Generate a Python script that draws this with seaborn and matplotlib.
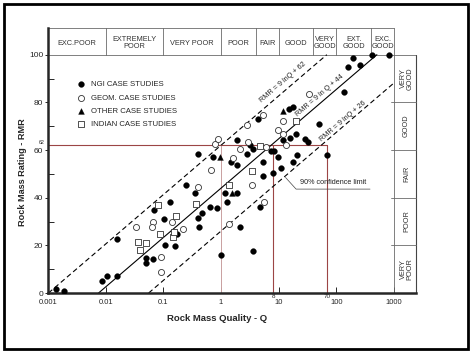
import numpy as np
import pandas as pd
import seaborn as sns
import matplotlib.pyplot as plt
from matplotlib.patches import Rectangle
from matplotlib.ticker import NullLocator

# 数据: Q 值与 RMR 值
ngi_q = [0.00136, 0.0019, 0.0087, 0.0104, 0.0159, 0.0159, 0.051, 0.050, 0.067, 0.069,
         0.103, 0.107, 0.13, 0.159, 0.175, 0.244, 0.354, 0.40, 0.42, 0.46,
         0.64, 0.84, 0.99, 1.17, 1.87, 1.29, 2.13, 0.395, 0.72, 1.47,
         1.87, 1.87, 2.79, 3.18, 3.54, 4.43, 5.28, 5.28, 7.27, 8.3,
         9.85, 10.8, 8.0, 11.7, 15.7, 20, 20.5, 17.5, 28.6, 32.6,
         50.6, 70, 15.3, 17.5, 136, 161, 197, 257, 420, 818,
         4.74, 3.63]
ngi_rmr = [1.7, 1.0, 5.0, 7.3, 7.3, 22.5, 14.6, 12.7, 14.3, 34.8,
           30.9, 20.1, 38.1, 19.8, 24.8, 45.3, 42.1, 31.6, 27.8, 33.4,
           36.2, 35.8, 15.9, 42.1, 41.8, 38.1, 27.6, 58.3, 57.1, 55.1,
           53.7, 64.2, 58.3, 62.1, 60.3, 72.9, 55.0, 49.3, 59.7, 59.7,
           56.9, 52.5, 50.4, 64.2, 65.2, 66.6, 57.7, 54.8, 64.5, 63.2,
           70.9, 57.9, 77.1, 78.2, 84.5, 95.0, 98.5, 95.7, 100, 100,
           36.0, 17.8]

geom_q = [0.033, 0.065, 0.064, 0.090, 0.090, 0.14, 0.222, 0.404, 0.67, 0.79,
          0.90, 1.38, 1.63, 2.09, 2.79, 2.97, 3.38, 5.41, 5.56, 6.03,
          9.85, 11.7, 12.0, 13.4, 34]
geom_rmr = [27.8, 29.9, 27.8, 15.0, 8.7, 29.7, 26.9, 44.6, 51.8, 62.5,
            64.5, 29.0, 56.7, 60.6, 70.5, 63.5, 45.3, 74.7, 38.3, 61.4,
            68.4, 72.2, 66.6, 62.1, 83.4]

other_q = [0.96, 1.52, 12.0]
other_rmr = [56.9, 42.1, 76.5]

indian_q = [0.039, 0.037, 0.050, 0.082, 0.0875, 0.145, 0.153, 0.166, 0.364, 1.39,
            3.40, 4.74, 20]
indian_rmr = [18.0, 21.3, 20.9, 36.9, 24.8, 23.6, 25.7, 32.3, 37.3, 45.3,
              51.3, 61.7, 72.2]

# RMR = 9 lnQ + b
intercepts = [62, 44, 26]
line_labels = ['RMR = 9 lnQ + 62', 'RMR = 9 ln Q + 44', 'RMR = 9 lnQ + 26']

q_bounds = [0.001, 0.01, 0.1, 1, 4, 10, 40, 100, 400, 1000]
q_classes = ['EXC.POOR', 'EXTREMELY\nPOOR', 'VERY POOR', 'POOR', 'FAIR', 'GOOD',
             'VERY\nGOOD', 'EXT.\nGOOD', 'EXC.\nGOOD']
rmr_bounds = [0, 20, 40, 60, 80, 100]
rmr_classes = ['VERY\nPOOR', 'POOR', 'FAIR', 'GOOD', 'VERY\nGOOD']

x_ticks = [0.001, 0.01, 0.1, 1, 10, 100, 1000]
x_tick_labels = ['0.001', '0.01', '0.1', '1', '10', '100', '1000']

sns.set_style('ticks')
plt.rcParams['font.family'] = ['Liberation Sans', 'DejaVu Sans']

fig = plt.figure(figsize=(4.74, 3.53), dpi=100)
ax = fig.add_axes([48 / 474, 1 - 293 / 353, 368 / 474, 265 / 353])
ax.set_xscale('log')
X_MAX = 2400
Y_MAX = 111.2
ax.set_xlim(0.001, X_MAX)
ax.set_ylim(0, Y_MAX)

grey = '#6a6a6a'
red = '#9c4545'

# 分类表格线
ax.plot([0.001, 1000], [Y_MAX, Y_MAX], color=grey, lw=0.6, clip_on=False)
ax.plot([0.001, X_MAX], [100, 100], color=grey, lw=0.6, clip_on=False)
for b in q_bounds[1:]:
    ax.plot([b, b], [100, Y_MAX], color=grey, lw=0.6, clip_on=False)
for i, name in enumerate(q_classes):
    xc = np.sqrt(q_bounds[i] * q_bounds[i + 1])
    ax.text(xc, 104.9, name, ha='center', va='center', fontsize=5.3,
            color='#333333', linespacing=0.95)

ax.plot([1000, 1000], [0, 100], color=grey, lw=0.6)
ax.plot([X_MAX, X_MAX], [0, 100], color='#444444', lw=0.8, clip_on=False)
for b in rmr_bounds[1:-1]:
    ax.plot([900, X_MAX], [b, b], color=grey, lw=0.6, clip_on=False)
for i, name in enumerate(rmr_classes):
    yc = (rmr_bounds[i] + rmr_bounds[i + 1]) / 2
    ax.text(1650, yc, name, ha='center', va='center', rotation=90,
            fontsize=5.3, color='#333333', linespacing=0.95)

# 参考线 (红色)
ax.plot([0.001, 70], [62, 62], color=red, lw=0.8, zorder=1)
ax.plot([1, 1], [0, 62], color='#c9a0a0', lw=0.7, zorder=1)
for qv in [8, 70]:
    ax.plot([qv, qv], [0, 62], color=red, lw=0.8, zorder=1)
ax.text(0.00088, 63, '62', ha='right', va='center', fontsize=3.8, clip_on=False)
ax.text(8, -0.6, '8', ha='center', va='top', fontsize=4.6, clip_on=False)
ax.text(70, -0.6, '70', ha='center', va='top', fontsize=4.6, clip_on=False)

# RMR-Q 关系线
for b in intercepts:
    q_lo = max(0.001, np.exp(-b / 9))
    q_hi = min(1000, np.exp((100 - b) / 9))
    qq = np.logspace(np.log10(q_lo), np.log10(q_hi), 60)
    if b == 44:
        ax.plot(qq, 9 * np.log(qq) + b, color='black', lw=0.8, zorder=2)
    else:
        ax.plot(qq, 9 * np.log(qq) + b, color='black', lw=0.8, zorder=2,
                dashes=(4.5, 2.8))

label_pos = [(11.9, 88.5), (52.1, 82.7), (130, 72.2)]
for (qx, ry), txt in zip(label_pos, line_labels):
    ax.text(qx, ry, txt, ha='center', va='center', rotation=40.6,
            fontsize=5.2, color='#222222')

ax.text(23.4, 46.2, '90% confidence limit', ha='left', va='center',
        fontsize=5.2, color='#222222')
ax.plot([13.1, 20, 383], [48.5, 43.6, 43.6], color='#444444', lw=0.5)

# 散点
sns.scatterplot(x=ngi_q, y=ngi_rmr, marker='o', color='black', edgecolor='black',
                s=17, linewidth=0.3, label='NGI CASE STUDIES', ax=ax, zorder=4)
sns.scatterplot(x=geom_q, y=geom_rmr, marker='o', color='white', edgecolor='#333333',
                s=19, linewidth=0.6, label='GEOM. CASE STUDIES', ax=ax, zorder=4)
sns.scatterplot(x=other_q, y=other_rmr, marker='^', color='black', edgecolor='black',
                s=17, linewidth=0.3, label='OTHER CASE STUDIES', ax=ax, zorder=4)
sns.scatterplot(x=indian_q, y=indian_rmr, marker='s', color='white', edgecolor='#333333',
                s=14, linewidth=0.6, label='INDIAN CASE STUDIES', ax=ax, zorder=4)

ax.legend(loc='upper left', bbox_to_anchor=(0.08, 0.80), frameon=False, fontsize=5.6,
          handlelength=0.8, handletextpad=0.9, labelspacing=0.75, borderpad=0,
          borderaxespad=0)

# 坐标轴
ax.set_xticks(x_ticks)
ax.set_xticklabels(x_tick_labels)
ax.xaxis.set_minor_locator(NullLocator())
ax.tick_params(axis='x', direction='in', length=4, width=0.7, labelsize=5.5, pad=4.5)
ax.set_yticks([0, 20, 40, 60, 80, 100])
ax.set_yticks([10, 30, 50, 70, 90], minor=True)
ax.tick_params(axis='y', which='major', direction='out', length=2.5, width=0.7,
               labelsize=6, pad=1)
ax.tick_params(axis='y', which='minor', direction='in', length=4, width=0.7)

for side in ['top', 'right']:
    ax.spines[side].set_visible(False)
for side in ['left', 'bottom']:
    ax.spines[side].set_linewidth(1.8)

ax.set_xlabel('Rock Mass Quality - Q', fontsize=6.8, fontweight='bold')
ax.xaxis.set_label_coords((217.5 - 48) / 368, -21 / 265)
ax.set_ylabel('Rock Mass Rating - RMR', fontsize=6.6, fontweight='bold')
ax.yaxis.set_label_coords((27.5 - 48) / 368, (293 - 172.5) / 265)

# 外框
fig.patches.append(Rectangle((4 / 474, 4 / 353), 464 / 474, 345 / 353,
                             transform=fig.transFigure, fill=False, lw=2,
                             ec='black'))

plt.savefig('out.png', dpi=100)
